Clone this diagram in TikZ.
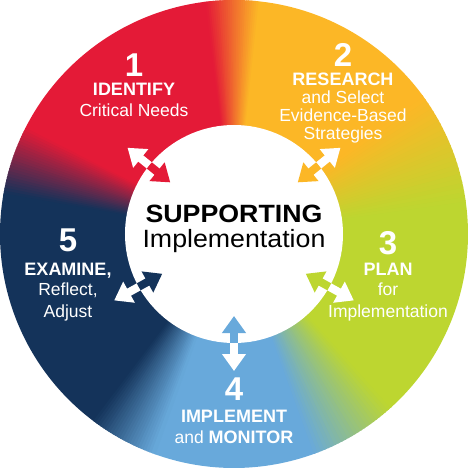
\documentclass[tikz,border=0pt]{standalone}
\usepackage{fontspec}
\setmainfont{Liberation Sans}
\newfontfamily\widesans[FakeStretch=1.07]{Liberation Sans}
\usepackage{xcolor}
\usetikzlibrary{arrows.meta}

\definecolor{ringred}{RGB}{228,26,55}
\definecolor{ringyellow}{RGB}{252,183,38}
\definecolor{ringgreen}{RGB}{189,214,48}
\definecolor{ringblue}{RGB}{104,169,219}
\definecolor{ringnavy}{RGB}{20,51,90}

% one flat piece of the ring
\newcommand\ringsolid[3]{%
  \fill[#3] (0,0) -- (#1:234pt) arc[start angle=#1, end angle=#2+0.4, radius=234pt] -- cycle;%
}
% a soft blend from one colour to the next
\newcommand\ringblend[4]{%
  \foreach \k in {1,...,24}{%
    \pgfmathsetmacro\ringA{#1+(#2-#1)*(\k-1)/24}%
    \pgfmathsetmacro\ringB{#1+(#2-#1)*\k/24+0.4}%
    \pgfmathtruncatemacro\ringP{100-(\k-0.5)*100/24}%
    \fill[#3!\ringP!#4] (0,0) -- (\ringA:234pt) arc[start angle=\ringA, end angle=\ringB, radius=234pt] -- cycle;%
  }%
}
\newcommand\hd[1]{{\fontsize{18}{21}\selectfont\bfseries #1}}

\begin{document}
\begin{tikzpicture}[x=1pt, y=1pt,
    dbl/.style={{Triangle[length=17pt,width=23pt]}-{Triangle[length=17pt,width=23pt]}, line width=8pt},
    num/.style={text=white, anchor=base, inner sep=0pt, font=\fontsize{33}{33}\selectfont\bfseries},
    lbl/.style={text=white, anchor=base, inner sep=0pt, align=center, font=\fontsize{17.5}{21}\selectfont}
]
\useasboundingbox (-234,-234) rectangle (234,234);

% Ring - five colours with blends between them
\ringsolid{-110}{-70}{ringblue}
\ringblend{-70}{-48}{ringblue}{ringgreen}
\ringsolid{-48}{8}{ringgreen}
\ringblend{8}{36}{ringgreen}{ringyellow}
\ringsolid{36}{84}{ringyellow}
\ringblend{84}{97}{ringyellow}{ringred}
\ringsolid{97}{153}{ringred}
\ringblend{153}{170}{ringred}{ringnavy}
\ringsolid{170}{233}{ringnavy}
\ringblend{233}{250}{ringnavy}{ringblue}

% Hub
\node[circle, fill=white, minimum size=218pt, inner sep=0pt] (hub) at (0,0) {};
\node[anchor=base, inner sep=0pt, font=\widesans\fontsize{25}{25}\selectfont\bfseries] (title) at (0,11) {SUPPORTING};
\node[anchor=base, inner sep=0pt, font=\widesans\fontsize{25}{25}\selectfont] (subtitle) at (0,-14) {Implementation};

% Arrow ends across the hub border
\coordinate (a1in) at (141:82pt);  \coordinate (a1out) at (141:137pt);
\coordinate (a2in) at (39:82pt);   \coordinate (a2out) at (39:137pt);
\coordinate (a3in) at (-29:82pt);  \coordinate (a3out) at (-29:137pt);
\coordinate (a4in) at (-90:82pt);  \coordinate (a4out) at (-90:137pt);
\coordinate (a5in) at (209:82pt);  \coordinate (a5out) at (209:137pt);

% Arrows - white on the ring
\draw[dbl, white] (a1in) -- (a1out);
\draw[dbl, white] (a2in) -- (a2out);
\draw[dbl, white] (a3in) -- (a3out);
\draw[dbl, white] (a4in) -- (a4out);
\draw[dbl, white] (a5in) -- (a5out);

% Arrows - coloured on the hub
\begin{scope}
\clip (hub.center) circle[radius=109pt];
\draw[dbl, ringred] (a1in) -- (a1out);
\draw[dbl, ringyellow] (a2in) -- (a2out);
\draw[dbl, ringgreen] (a3in) -- (a3out);
\draw[dbl, ringblue] (a4in) -- (a4out);
\draw[dbl, ringnavy] (a5in) -- (a5out);
\end{scope}

% Step numbers
\node[num] (n1) at (-100,157) {1};
\node[num] (n2) at (109,167) {2};
\node[num] (n3) at (154,-21) {3};
\node[num] (n4) at (0,-166) {4};
\node[num] (n5) at (-166,-18) {5};

% Step labels (base = last line)
\node[lbl] (l1) at (-100,117) {\hd{IDENTIFY}\\Critical Needs};
\node[lbl, font=\fontsize{17.5}{18.3}\selectfont] (l2) at (109,94) {\hd{RESEARCH}\\and Select\\Evidence-Based\\Strategies};
\node[lbl] (l3) at (154,-83) {\hd{PLAN}\\for\\Implementation};
\node[lbl] (l4) at (0,-209) {\hd{IMPLEMENT}\\and \hd{MONITOR}};
\node[lbl] (l5) at (-166,-83) {\hd{EXAMINE,}\\Reflect,\\Adjust};

\end{tikzpicture}
\end{document}
